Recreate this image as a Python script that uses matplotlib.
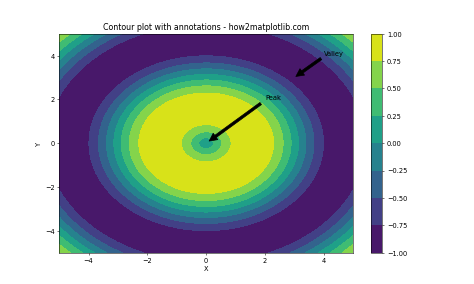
import matplotlib
matplotlib.use("Agg")
import matplotlib.pyplot as plt
import numpy as np

# grid and surface: z = sin(r)
x_range = (-5, 5)
y_range = (-5, 5)
n_points = 100

# annotations: (label, point, text position)
annotations = [
    ("Peak", (0, 0), (2, 2)),
    ("Valley", (3, 3), (4, 4)),
]

x = np.linspace(x_range[0], x_range[1], n_points)
y = np.linspace(y_range[0], y_range[1], n_points)
X, Y = np.meshgrid(x, y)
Z = np.sin(np.sqrt(X ** 2 + Y ** 2))

fig, ax = plt.subplots(figsize=(10, 6), dpi=47.4)
cs = ax.contourf(X, Y, Z, cmap="viridis")
fig.colorbar(cs)

for label, point, text_pos in annotations:
    ax.annotate(label, xy=point, xytext=text_pos,
                arrowprops=dict(facecolor="black", shrink=0.05))

ax.set_title("Contour plot with annotations - how2matplotlib.com")
ax.set_xlabel("X")
ax.set_ylabel("Y")

plt.savefig("out.png", dpi=47.4)
